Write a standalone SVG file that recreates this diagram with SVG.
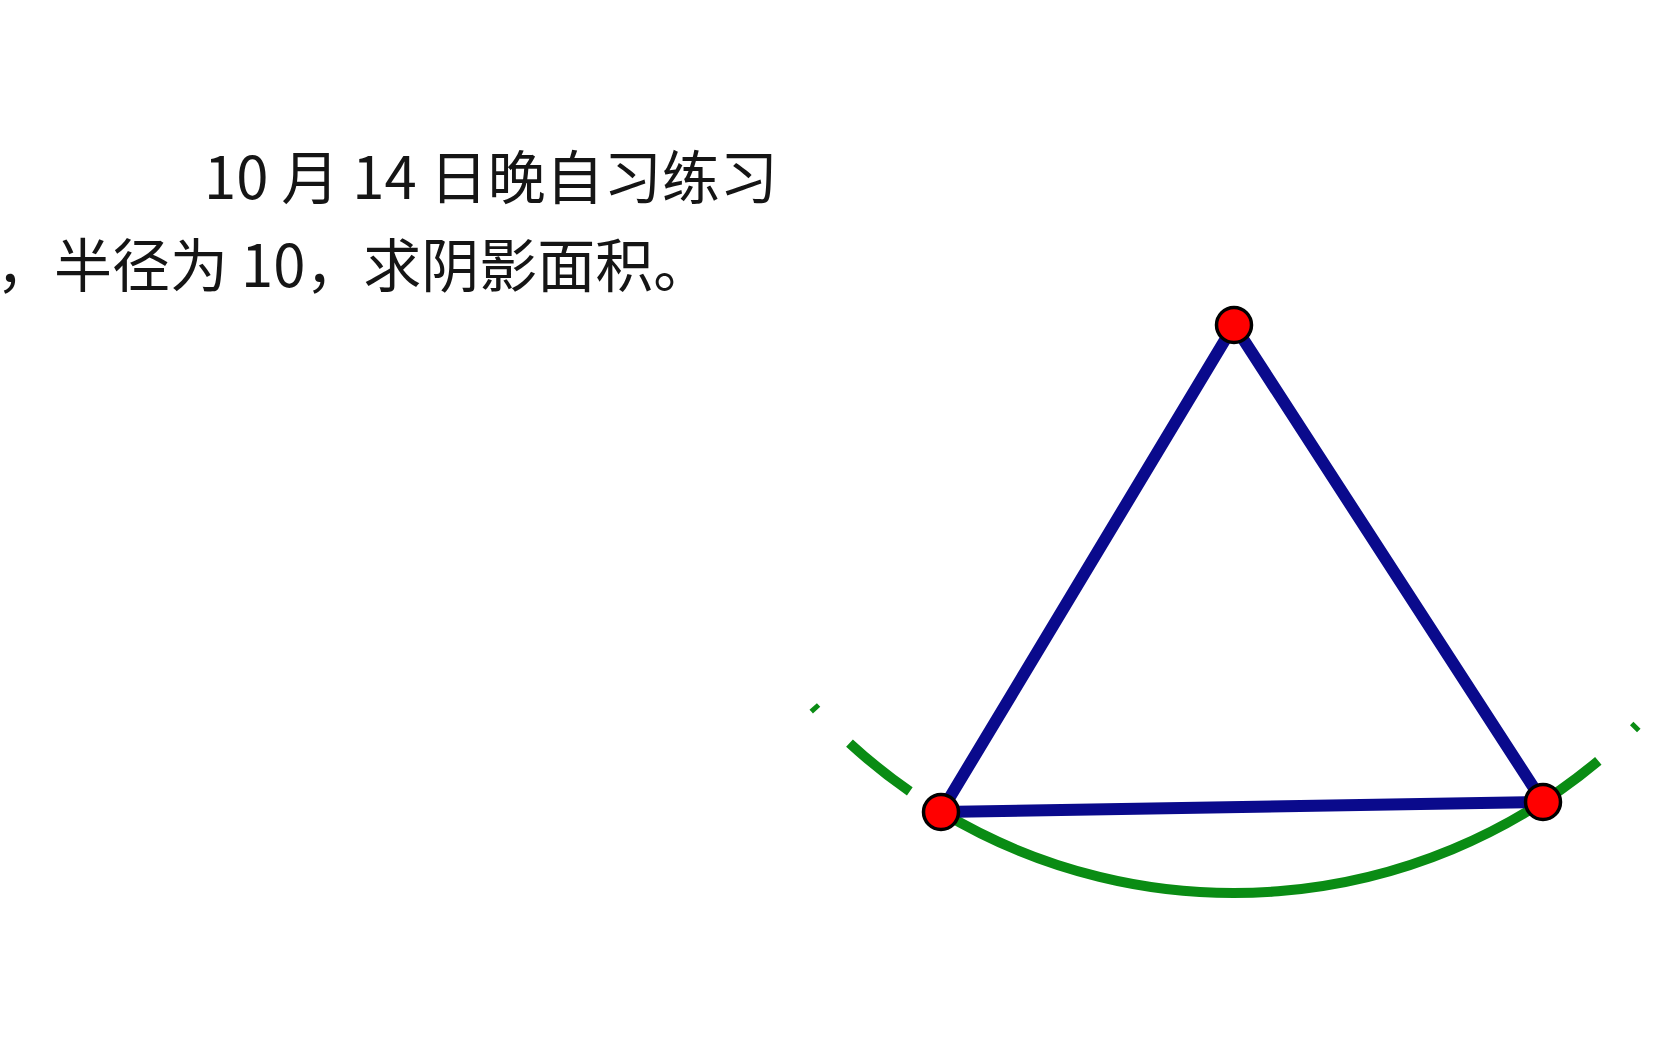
<svg xmlns="http://www.w3.org/2000/svg" width="1680" height="1050" viewBox="0 0 1680 1050">
<style>
.t{font-family:"Noto Sans CJK SC","Liberation Sans",sans-serif;font-size:58px;fill:#151515}
.edge{stroke:#0a0a8c;stroke-width:12;fill:none;stroke-linecap:round}
.arc{stroke:#0a8c14;stroke-width:10;fill:none}
.pt{fill:#ff0000;stroke:#000;stroke-width:3.5}
</style>
<rect width="1680" height="1050" fill="#ffffff"/>
<g id="title">
<text class="t" x="204" y="199">10 月 14 日晚自习练习</text>
<text class="t" x="-4" y="287">，半径为 10，求阴影面积。</text>
</g>
<g id="arcs">
<path class="arc" d="M813.2,706.5 A568,568 0 0 0 816.6,710.2"/>
<path class="arc" d="M849.5,743.1 A568,568 0 0 0 909.8,791.4"/>
<path class="arc" d="M941.5,811.9 A568,568 0 0 0 1598.3,760.8"/>
<path class="arc" d="M1637,725.2 A568,568 0 0 1 1633.5,728.7"/>
</g>
<g id="connectors">
<line class="edge" x1="1234" y1="325" x2="941" y2="812"/>
<line class="edge" x1="1234" y1="325" x2="1543" y2="802"/>
<line class="edge" x1="941" y1="812" x2="1543" y2="802"/>
</g>
<g id="A"><circle class="pt" cx="1234" cy="325" r="17.5"/></g>
<g id="B"><circle class="pt" cx="941" cy="812" r="17.5"/></g>
<g id="C"><circle class="pt" cx="1543" cy="802" r="17.5"/></g>
</svg>
